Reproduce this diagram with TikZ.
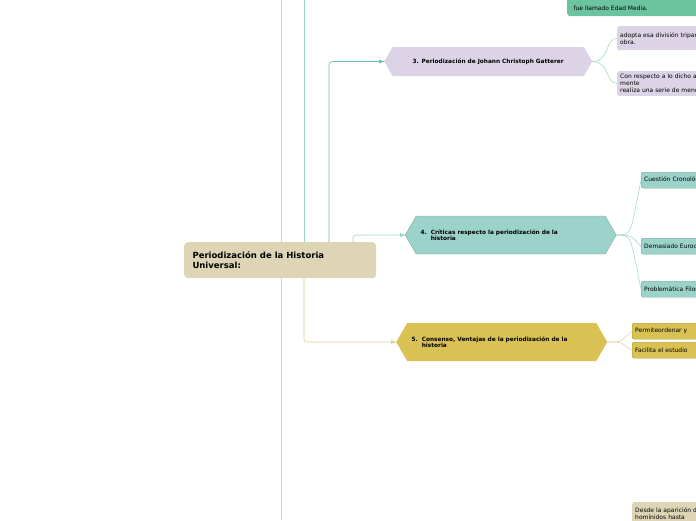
\documentclass[tikz,border=0pt]{standalone}
\usepackage{fontspec}
\setmainfont{DejaVu Sans}
\usetikzlibrary{shapes.geometric,shapes.symbols,arrows.meta}
\definecolor{beige}{HTML}{DDD5B5}
\definecolor{lav}{HTML}{DDD3E6}
\definecolor{teal}{HTML}{9BD3CB}
\definecolor{yel}{HTML}{D9C154}
\definecolor{grn}{HTML}{6CC3A0}
\tikzset{
 hex/.style={shape=signal,signal to=east and west,signal pointer angle=120,inner sep=0pt,anchor=west},
 leaf/.style={rounded corners=2pt,anchor=north west,font=\fontsize{6}{7}\selectfont,align=left,inner sep=3pt,text width=110pt},
 conn/.style={rounded corners=3pt,line width=0.6pt},
 cur/.style={line width=0.5pt}
}
\begin{document}
\begin{tikzpicture}[x=1pt,y=-1pt]
\useasboundingbox (0,0) rectangle (696,520);
\clip (0,0) rectangle (696,520);
\fill[white] (0,0) rectangle (696,520);
% long lines
\draw[beige,line width=0.8pt] (281,0) -- (281,520);
\coordinate (t1) at (304,0);
\draw[teal,line width=0.8pt] (t1) -- (304,242);
% root
\node[fill=beige,rounded corners=4pt,minimum width=192pt,minimum height=36pt,anchor=north west,inner sep=0pt] (root) at (184,242) {};
\node[anchor=west,font=\bfseries\fontsize{8.5}{9.5}\selectfont,align=left] at (189,260) {Periodización de la Historia\\Universal:};
% top green
\node[fill=grn,rounded corners=3pt,anchor=north west,minimum width=140pt,minimum height=20pt] (g) at (567,-4) {};
\node[anchor=west,font=\fontsize{6}{7}\selectfont] at (570,8) {fue llamado Edad Media.};
% node 3
\node[hex,fill=lav,minimum width=208pt,minimum height=29pt] (n3) at (384,61.5) {};
\node[font=\bfseries\fontsize{5.8}{6.5}\selectfont] at (n3) {3. Periodización de Johann Christoph Gatterer};
\draw[conn,color=grn] (329,242) -- (329,61.5) -- (n3.west);
\fill[grn] (n3.west) -- ++(-5,-2) -- ++(0,4) -- cycle;
% node 4
\node[hex,fill=teal,draw=teal!80!black,minimum width=211pt,minimum height=38pt] (n4) at (405,235) {};
\node[anchor=west,font=\bfseries\fontsize{5.8}{6.5}\selectfont,align=left] at (417,235) {4.\ \ Críticas respecto la periodización de la\\\phantom{4.\ \ }historia};
\draw[conn,color=teal] (353,242) -- (353,235) -- (n4.west);
\fill[teal] (n4.west) -- ++(-5,-2) -- ++(0,4) -- cycle;
% node 5
\node[hex,fill=yel,minimum width=211pt,minimum height=38pt] (n5) at (396,342) {};
\node[anchor=west,font=\bfseries\fontsize{5.8}{6.5}\selectfont,align=left] at (408,342) {5.\ \ Consenso, Ventajas de la periodización de la\\\phantom{5.\ \ }historia};
\draw[conn,color=beige!70!yel] (304,278) -- (304,342) -- (n5.west);
\fill[beige!70!yel] (n5.west) -- ++(-5,-2) -- ++(0,4) -- cycle;
% children of 3
\node[leaf,fill=lav,minimum height=24pt] (a1) at (617,26) {adopta esa división tripartita en su\\obra.};
\node[leaf,fill=lav,minimum height=24pt] (a2) at (617,71) {Con respecto a lo dicho anteriormente\\realiza una serie de menciones};
\draw[cur,grn!70] (n3.east) .. controls (610,61.5) and (605,38) .. (a1.west);
\draw[cur,grn!70] (n3.east) .. controls (610,61.5) and (605,83) .. (a2.west);
% children of 4
\node[leaf,fill=teal,draw=teal!80!black,minimum height=16pt] (b1) at (641,172) {Cuestión Cronológica};
\node[leaf,fill=teal,draw=teal!80!black,minimum height=16pt] (b2) at (641,238) {Demasiado Eurocéntrica};
\node[leaf,fill=teal,draw=teal!80!black,minimum height=16pt] (b3) at (641,281) {Problemática Filosófica};
\foreach \b in {b1,b2,b3} \draw[cur,teal] (n4.east) .. controls (632,235) and (630,235) .. (\b.west);
% children of 5
\node[leaf,fill=yel,draw=yel!80!black,minimum height=16pt] (c1) at (632,323) {Permiteordenar y};
\node[leaf,fill=yel,draw=yel!80!black,minimum height=16pt] (c2) at (632,342) {Facilita el estudio};
\foreach \c in {c1,c2} \draw[cur,beige!70!yel] (n5.east) .. controls (622,342) and (620,342) .. (\c.west);
% bottom
\node[leaf,fill=beige,minimum height=22pt] (d1) at (632,502) {Desde la aparición de los\\homínidos hasta};
\end{tikzpicture}
\end{document}
